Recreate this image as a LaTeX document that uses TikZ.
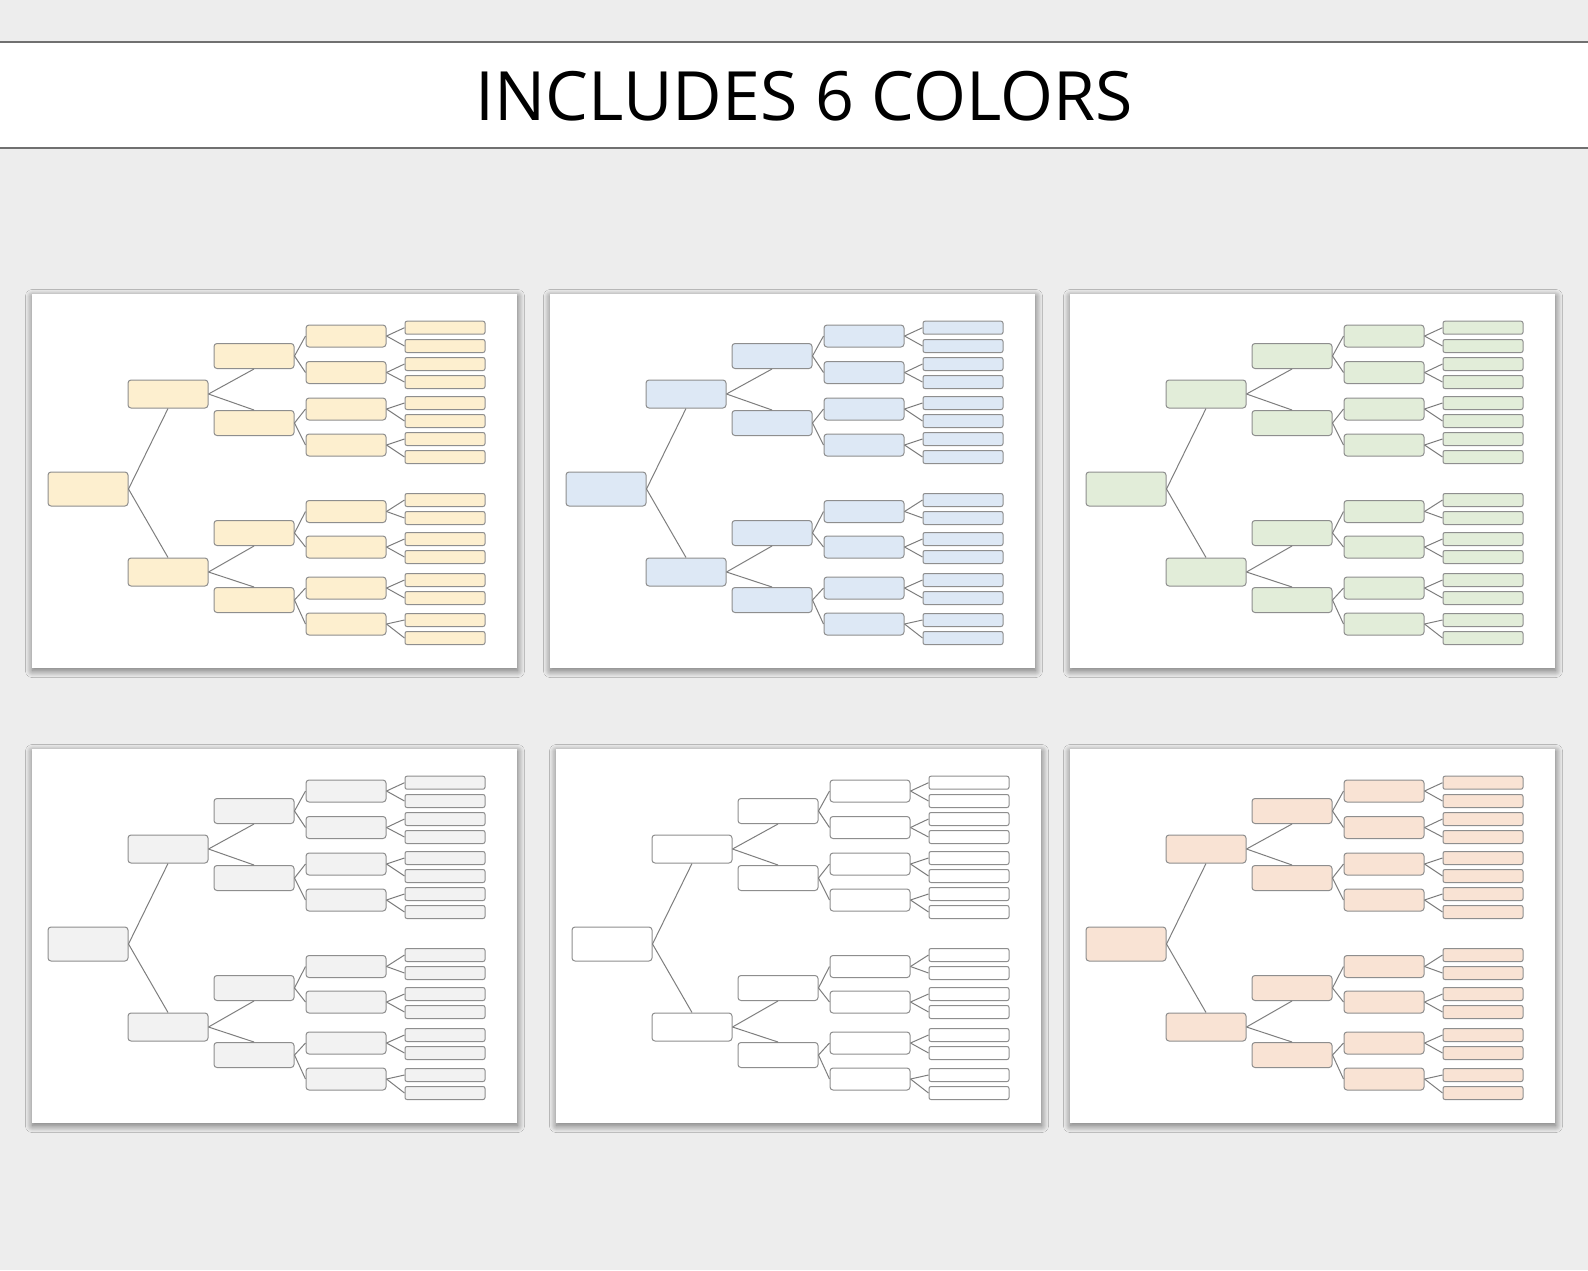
\documentclass[tikz,border=0pt]{standalone}
\usepackage{fontspec}
\setmainfont{Open Sans}
\usetikzlibrary{shadows.blur}

\definecolor{bggrey}{HTML}{EDEDED}
\definecolor{bandline}{HTML}{707070}
\definecolor{boxline}{HTML}{8E8E8E}
\definecolor{branchline}{HTML}{7E7E7E}
\definecolor{fillyellow}{HTML}{FDEFCF}
\definecolor{fillblue}{HTML}{DDE8F5}
\definecolor{fillgreen}{HTML}{E2EDD9}
\definecolor{fillgrey}{HTML}{F2F2F2}
\definecolor{fillwhite}{HTML}{FFFFFF}
\definecolor{fillpeach}{HTML}{F9E3D4}

\tikzset{
	card/.style={fill=white, inner sep=0pt,
		minimum width=485pt, minimum height=374pt,
		blur shadow={shadow xshift=0.5pt, shadow yshift=-2.5pt, shadow blur radius=7pt, shadow blur steps=24, shadow opacity=55}},
	box/.style={draw=boxline, line width=1pt, rounded corners=3pt, inner sep=0pt, minimum width=80pt},
	rootbox/.style={box, minimum height=34pt},
	lvlone/.style={box, minimum height=28pt},
	lvltwo/.style={box, minimum height=25pt},
	lvlthree/.style={box, minimum height=22pt},
	lvlfour/.style={box, rounded corners=2pt, minimum height=13pt},
	branch/.style={draw=branchline, line width=1pt}
}

\begin{document}
\begin{tikzpicture}[x=1pt, y=-1pt]
		% background and title band
		\fill[bggrey] (0,0) rectangle (1588,1270);
		\useasboundingbox (0,0) rectangle (1588,1270);
		\fill[white] (0,42) rectangle (1588,148);
		\draw[bandline, line width=1.5pt] (0,42) -- (1588,42);
		\draw[bandline, line width=1.5pt] (0,148) -- (1588,148);
		\node[anchor=base, inner sep=0pt, font=\fontsize{68}{80}\selectfont] (title) at (804,120.5) {INCLUDES 6 COLORS};
		
		% one card per colour
		\foreach \c/\cx/\cy/\col in {1/32/294/fillyellow, 2/550/294/fillblue, 3/1070/294/fillgreen,
			4/32/749/fillgrey, 5/556/749/fillwhite, 6/1070/749/fillpeach}{
			\begin{scope}[shift={(\cx,\cy)}]
				\node[card] (card\c) at (242.5,187) {};
				\node[rootbox, fill=\col] (r\c) at (56,195) {};
				\foreach \i/\y in {1/100, 2/278}{
					\node[lvlone, fill=\col] (a\c-\i) at (136,\y) {};
				}
				\foreach \i/\y in {1/62, 2/129, 3/239, 4/306}{
					\node[lvltwo, fill=\col] (b\c-\i) at (222,\y) {};
				}
				\foreach \i/\y in {1/42, 2/78.5, 3/115, 4/151, 5/217.5, 6/253, 7/294, 8/330}{
					\node[lvlthree, fill=\col] (e\c-\i) at (314,\y) {};
				}
				\foreach \i/\y in {1/33.7, 2/52, 3/70, 4/88, 5/109, 6/127, 7/145, 8/163,
					9/206, 10/224, 11/245, 12/263, 13/286, 14/304, 15/326, 16/344}{
					\node[lvlfour, fill=\col] (d\c-\i) at (413,\y) {};
				}
				
				% connectors
				\draw[branch] (r\c.east) -- (a\c-1.south);
				\draw[branch] (r\c.east) -- (a\c-2.north);
				\foreach \p/\u/\l in {1/1/2, 2/3/4}{
					\draw[branch] (a\c-\p.east) -- (b\c-\u.south);
					\draw[branch] (a\c-\p.east) -- (b\c-\l.north);
				}
				\foreach \k/\p in {1/1, 2/1, 3/2, 4/2, 5/3, 6/3, 7/4, 8/4}{
					\draw[branch] (b\c-\p.east) -- (e\c-\k.west);
				}
				\foreach \k/\p in {1/1, 2/1, 3/2, 4/2, 5/3, 6/3, 7/4, 8/4,
					9/5, 10/5, 11/6, 12/6, 13/7, 14/7, 15/8, 16/8}{
					\draw[branch] (e\c-\p.east) -- (d\c-\k.west);
				}
			\end{scope}
		}
\end{tikzpicture}
\end{document}
